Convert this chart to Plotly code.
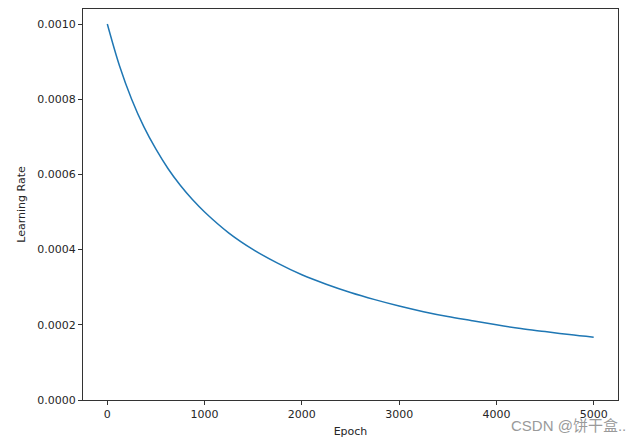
import plotly.graph_objects as go

# learning rate
epochs = [0, 125, 250, 375, 500, 625, 750, 875, 1000, 1250, 1500, 1750, 2000,
          2250, 2500, 2750, 3000, 3250, 3500, 3750, 4000, 4250, 4500, 4750, 5000]
learning_rate = [0.001, 0.000889, 0.0008, 0.000727, 0.000667, 0.000615, 0.000571,
                 0.000533, 0.0005, 0.000444, 0.0004, 0.000364, 0.000333, 0.000308,
                 0.000286, 0.000267, 0.00025, 0.000235, 0.000222, 0.000211, 0.0002,
                 0.00019, 0.000182, 0.000174, 0.000167]

x_ticks = [0, 1000, 2000, 3000, 4000, 5000]
y_ticks = [0.0, 0.0002, 0.0004, 0.0006, 0.0008, 0.0010]
y_tick_text = ["0.0000", "0.0002", "0.0004", "0.0006", "0.0008", "0.0010"]

font = "DejaVu Sans, sans-serif"
frame = "#333333"
text_color = "#262626"

fig = go.Figure()
fig.add_trace(go.Scatter(
    x=epochs, y=learning_rate, mode="lines",
    line=dict(color="#1f77b4", width=1.5, shape="spline"),
    showlegend=False, hoverinfo="skip",
))

axis_common = dict(
    showgrid=False, zeroline=False, showline=True, linecolor=frame, linewidth=1,
    mirror=True, ticks="outside", ticklen=4, tickcolor=frame, tickwidth=1,
    tickfont=dict(family=font, size=11, color=text_color), automargin=False,
)
fig.update_xaxes(
    range=[-250, 5250], tickvals=x_ticks,
    title=dict(text="Epoch", font=dict(family=font, size=11, color=text_color), standoff=7),
    **axis_common,
)
fig.update_yaxes(
    range=[0, 0.00104], tickvals=y_ticks, ticktext=y_tick_text,
    title=dict(text="Learning Rate", font=dict(family=font, size=11, color=text_color), standoff=9),
    **axis_common,
)

# watermark in the bottom-right corner
fig.add_annotation(
    text="CSDN @饼干盒..", xref="paper", yref="paper", x=1.019, y=-0.066,
    xanchor="right", yanchor="middle", showarrow=False,
    font=dict(family="Liberation Sans, Noto Sans CJK SC", size=15, color="#9a9a9a"),
)

# page body adds an 8px offset, so margins are shifted to compensate
fig.update_layout(
    width=644, height=443,
    margin=dict(l=75, r=34, t=1, b=51),
    paper_bgcolor="white", plot_bgcolor="white",
)

fig.write_html("out.html")
